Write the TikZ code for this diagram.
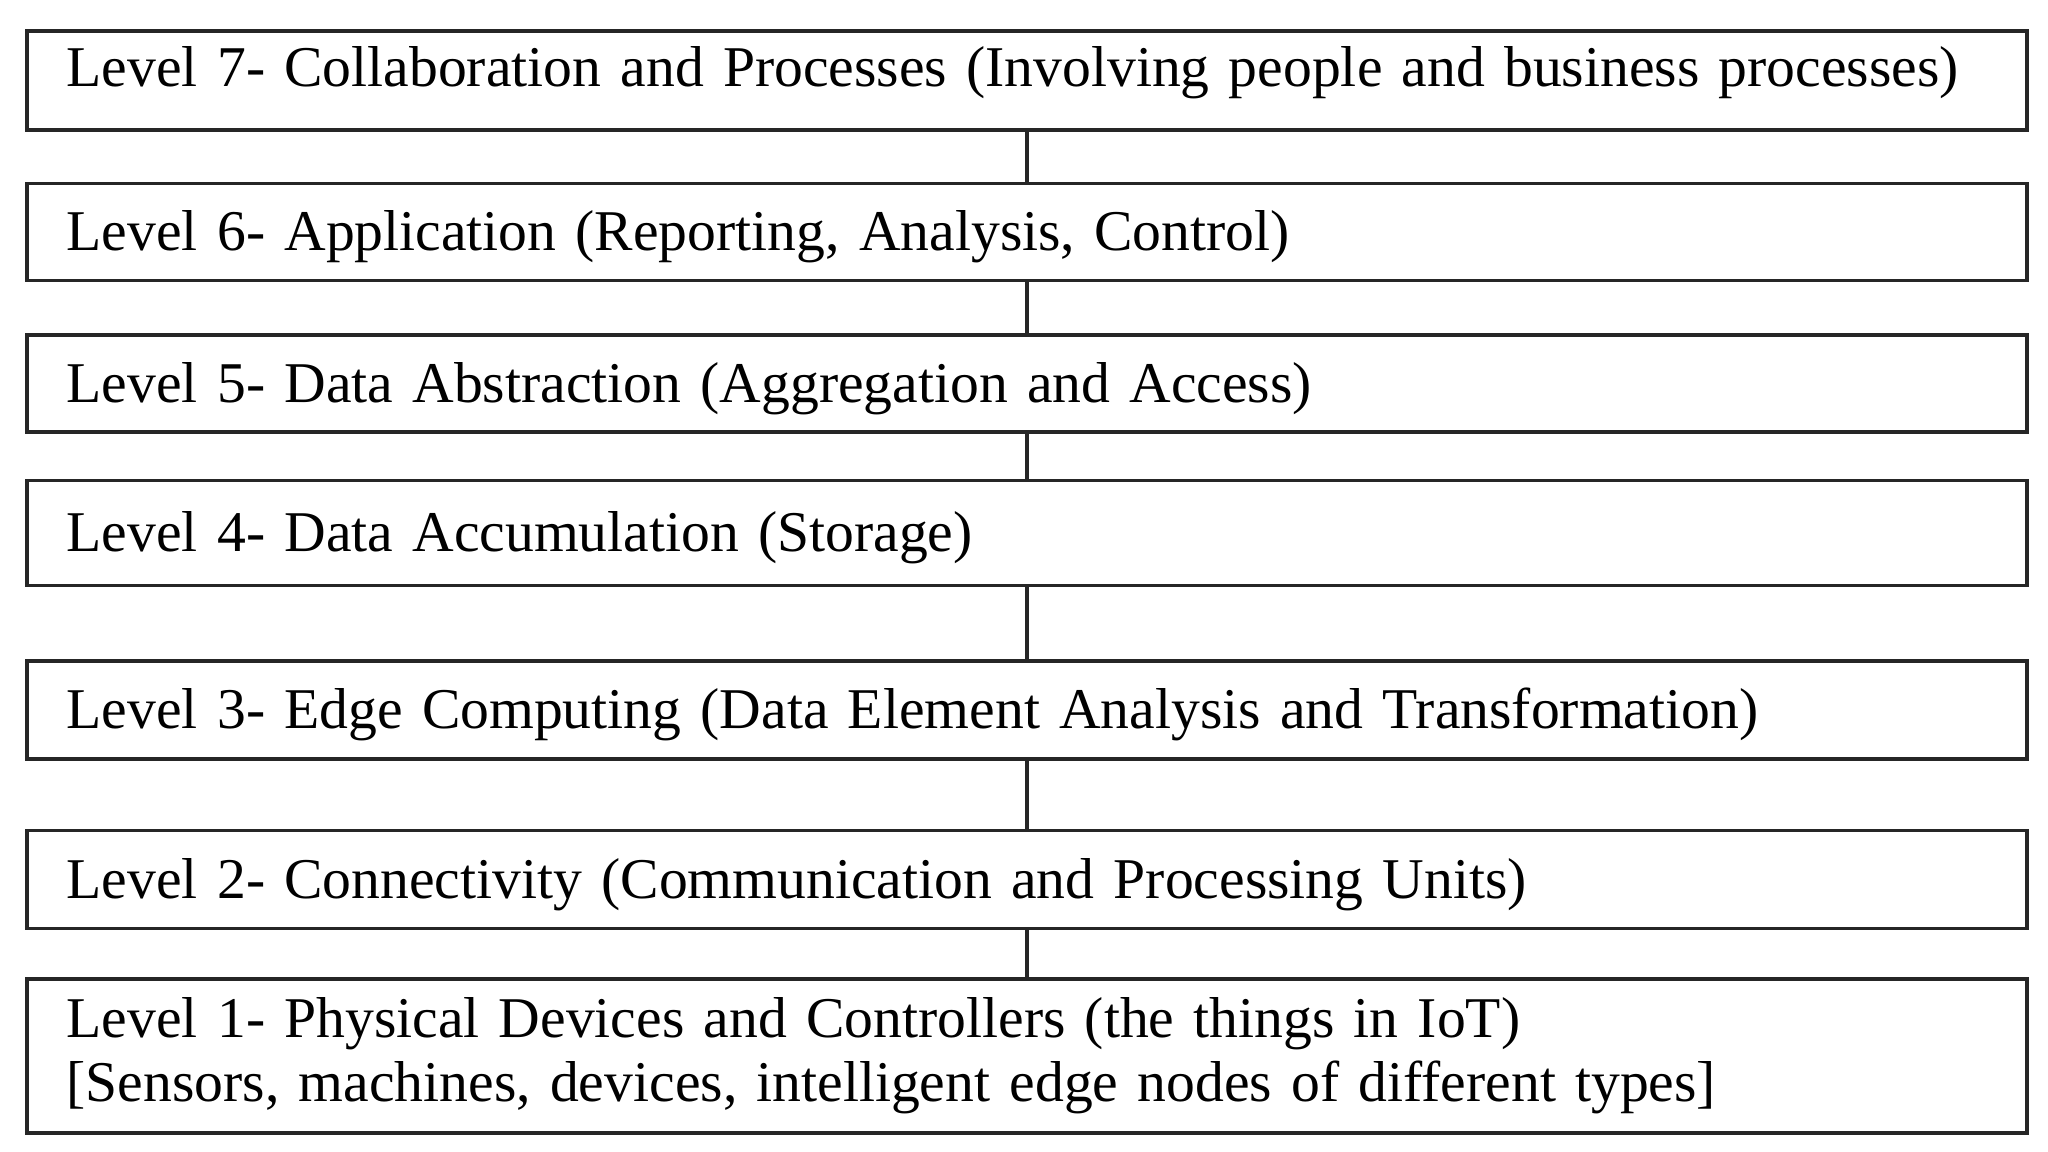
\documentclass[tikz,border=0pt]{standalone}
\usepackage{fontspec}
\setmainfont{Liberation Serif}
\usepackage{tikz}
\usetikzlibrary{positioning}

\begin{document}
\begin{tikzpicture}[node distance=0.5cm, line width=1pt]
    \tikzstyle{level} = [rectangle, draw=black!85, text width=19.2cm, inner xsep=0.4cm, inner ysep=0.1cm, align=left, font=\fontsize{16.4}{18.2}\selectfont]
    \tikzstyle{onerow} = [level, text height=0.5cm]
    \tikzstyle{link} = [draw=black!85]

    \useasboundingbox (0,0) rectangle (20.48,-11.52);

    \node [level, minimum height=0.99cm, text depth=0.27cm, anchor=north west] (l7) at (0.25,-0.29) {Level 7- Collaboration and Processes (Involving people and business processes)};
    \node [onerow, minimum height=0.97cm, below=0.50cm of l7] (l6) {Level 6- Application (Reporting, Analysis, Control)};
    \node [onerow, minimum height=0.97cm, below=0.51cm of l6] (l5) {Level 5- Data Abstraction (Aggregation and Access)};
    \node [onerow, minimum height=1.05cm, below=0.45cm of l5] (l4) {Level 4- Data Accumulation (Storage)};
    \node [onerow, minimum height=0.98cm, below=0.72cm of l4] (l3) {Level 3- Edge Computing (Data Element Analysis and Transformation)};
    \node [onerow, minimum height=0.98cm, below=0.68cm of l3] (l2) {Level 2- Connectivity (Communication and Processing Units)};
    \node [level, minimum height=1.54cm, below=0.47cm of l2] (l1) {Level 1- Physical Devices and Controllers (the things in IoT)\\{[}Sensors, machines, devices, intelligent edge nodes of different types{]}};

    % Connections
    \draw[link] (l7.south) -- (l6.north);
    \draw[link] (l6.south) -- (l5.north);
    \draw[link] (l5.south) -- (l4.north);
    \draw[link] (l4.south) -- (l3.north);
    \draw[link] (l3.south) -- (l2.north);
    \draw[link] (l2.south) -- (l1.north);
\end{tikzpicture}
\end{document}
